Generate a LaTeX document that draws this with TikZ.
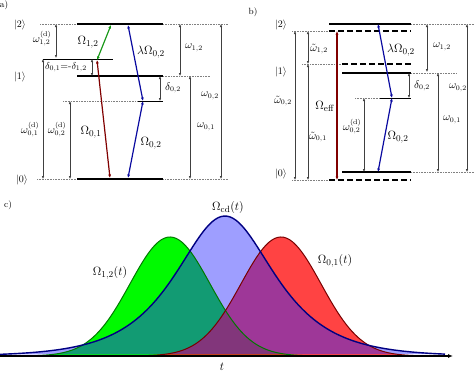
\documentclass[tikz,border=0pt]{standalone}
\usepackage{amsmath, amssymb}
\usetikzlibrary{positioning, arrows.meta}

\definecolor{pulsered}{RGB}{128,0,0}
\definecolor{pulsegreen}{RGB}{20,150,20}
\definecolor{pulseblue}{RGB}{10,10,160}
\definecolor{fillgreen}{RGB}{0,250,0}
\definecolor{fillred}{RGB}{255,20,20}
\definecolor{fillblue}{RGB}{40,40,255}
\definecolor{edgegreen}{RGB}{0,120,0}
\definecolor{edgered}{RGB}{120,0,0}
\definecolor{edgeblue}{RGB}{0,0,130}

\tikzset{
	statebar/.style={line width=2pt},
	ghostbar/.style={line width=2pt, dash pattern=on 6pt off 3pt},
	guide/.style={gray, densely dotted, line width=0.6pt},
	dimarrow/.style={{Latex[length=3pt,width=2.4pt]}-{Latex[length=3pt,width=2.4pt]}, black!75, line width=0.45pt},
	pulsearrow/.style={{Latex[length=3.5pt,width=3pt]}-{Latex[length=3.5pt,width=3pt]}, line width=1.2pt},
	lbl/.style={inner sep=1pt, font=\fontsize{10.5}{12}\selectfont},
	biglbl/.style={inner sep=1pt, font=\fontsize{12.8}{15}\selectfont},
	ketlbl/.style={inner sep=1pt, font=\normalsize},
}

\begin{document}
\begin{tikzpicture}[x=1pt, y=-1pt]
\useasboundingbox (0,0) rectangle (474,372);

% ---------- a) ----------
\node[lbl, font=\small] (tagA) at (4,5) {a)};
\draw[guide] (40,24) -- (228,24);
\draw[guide] (163,76) -- (210,76);
\draw[guide] (37,179) -- (228,179);
\draw[guide] (63,101) -- (138,101);
\draw[statebar] (77,24) -- (163,24);
\draw[statebar] (77,76) -- (163,76);
\draw[statebar] (77,179) -- (163,179);
\draw[line width=0.7pt] (43,59) -- (113,59);
\draw[line width=0.9pt] (138,101) -- (163,101);
\node[ketlbl] (ketA2) at (20,25) {$|2\rangle$};
\node[ketlbl] (ketA1) at (20,77) {$|1\rangle$};
\node[ketlbl] (ketA0) at (22,180) {$|0\rangle$};

\foreach \x/\ya/\yb in {56/24/58, 92/59/76, 43/59/179, 70/101/179, 160/76/101, 180/24/76, 190/76/179, 221/24/179} {
	\draw[dimarrow] (\x,\ya) -- (\x,\yb);
};

\coordinate (pA0) at (110,178);
\coordinate (pAv) at (97,60);
\coordinate (pA2) at (111,25);
\coordinate (qA2) at (128,25);
\coordinate (qAv) at (143,101);
\coordinate (qA0) at (128,178);
\draw[pulsearrow, pulsered] (pA0) -- (pAv);
\draw[pulsearrow, pulsegreen] (pAv) -- (pA2);
\draw[pulsearrow, pulseblue] (qA2) -- (qAv);
\draw[pulsearrow, pulseblue] (qAv) -- (qA0);

\node[lbl] (w12dA) at (42,39) {$\omega^{(\mathrm{d})}_{1,2}$};
\node[lbl, font=\normalsize] (d01A) at (66,67) {$\delta_{0,1}$=-$\delta_{1,2}$};
\node[lbl] (w01dA) at (30,130) {$\omega^{(\mathrm{d})}_{0,1}$};
\node[lbl] (w02dA) at (57,130) {$\omega^{(\mathrm{d})}_{0,2}$};
\node[biglbl] (O12A) at (88,42) {$\Omega_{1,2}$};
\node[biglbl] (lO02A) at (151,52) {$\lambda\Omega_{0,2}$};
\node[biglbl] (O01A) at (91,132) {$\Omega_{0,1}$};
\node[biglbl] (O02A) at (151,143) {$\Omega_{0,2}$};
\node[lbl] (d02A) at (173,88) {$\delta_{0,2}$};
\node[lbl] (w12A) at (194,48) {$\omega_{1,2}$};
\node[lbl] (w01A) at (206,127) {$\omega_{0,1}$};
\node[lbl] (w02A) at (210,96) {$\omega_{0,2}$};

% ---------- b) ----------
\node[lbl, font=\small] (tagB) at (253,12) {b)};
\draw[guide] (411,24) -- (475,24);
\draw[guide] (292,31) -- (329,31);
\draw[guide] (302,64) -- (342,64);
\draw[guide] (411,73) -- (456,73);
\draw[guide] (355,98) -- (380,98);
\draw[guide] (411,172) -- (475,172);
\draw[guide] (292,180) -- (329,180);
\draw[statebar] (329,24) -- (411,24);
\draw[ghostbar] (329,31) -- (411,31);
\draw[ghostbar] (342,64) -- (411,64);
\draw[statebar] (342,73) -- (411,73);
\draw[line width=0.9pt] (380,98) -- (411,98);
\draw[statebar] (342,172) -- (411,172);
\draw[ghostbar] (329,180) -- (411,180);
\node[ketlbl] (ketB2) at (281,25) {$|2\rangle$};
\node[ketlbl] (ketB1) at (281,72) {$|1\rangle$};
\node[ketlbl] (ketB0) at (281,174) {$|0\rangle$};

\foreach \x/\ya/\yb in {295/31/180, 308/31/64, 308/64/180, 364/98/172, 409/73/98, 427/24/72, 438/73/172, 467/24/172} {
	\draw[dimarrow] (\x,\ya) -- (\x,\yb);
};

\coordinate (eB2) at (337,31);
\coordinate (eB0) at (337,180);
\coordinate (qB2) at (378,24);
\coordinate (qBv) at (392,98);
\coordinate (qB0) at (378,172);
\draw[pulsearrow, pulsered] (eB0) -- (eB2);
\draw[pulsearrow, pulseblue] (qB2) -- (qBv);
\draw[pulsearrow, pulseblue] (qBv) -- (qB0);

\node[lbl] (tw02B) at (283,101) {$\tilde{\omega}_{0,2}$};
\node[lbl] (tw12B) at (319,49) {$\tilde{\omega}_{1,2}$};
\node[lbl] (tw01B) at (318,137) {$\tilde{\omega}_{0,1}$};
\node[biglbl] (OeffB) at (325,106) {$\Omega_{\mathrm{eff}}$};
\node[lbl] (w02dB) at (352,127) {$\omega^{(\mathrm{d})}_{0,2}$};
\node[biglbl] (lO02B) at (401,50) {$\lambda\Omega_{0,2}$};
\node[biglbl] (O02B) at (398,137) {$\Omega_{0,2}$};
\node[lbl] (d02B) at (422,86) {$\delta_{0,2}$};
\node[lbl] (w12B) at (442,47) {$\omega_{1,2}$};
\node[lbl] (w01B) at (452,120) {$\omega_{0,1}$};
\node[lbl] (w02B) at (458,88) {$\omega_{0,2}$};

% ---------- c) ----------
\node[lbl, font=\small] (tagC) at (8,205) {c)};
\fill[fillgreen] plot[domain=0:445, samples=150] (\x,{356-119*exp(-((\x-170)/40)^2/2)}) -- cycle;
\fill[fillred, opacity=0.8] plot[domain=0:445, samples=150] (\x,{356-119*exp(-((\x-281)/40)^2/2)}) -- cycle;
\fill[fillblue, opacity=0.45] plot[domain=0:445, samples=150] (\x,{356-140/cosh((\x-225)/44)}) -- cycle;
\draw[edgegreen, line width=1pt] plot[domain=0:445, samples=150] (\x,{356-119*exp(-((\x-170)/40)^2/2)});
\draw[edgered, line width=1pt] plot[domain=0:445, samples=150] (\x,{356-119*exp(-((\x-281)/40)^2/2)});
\draw[edgeblue, line width=1.4pt] plot[domain=0:445, samples=150] (\x,{356-140/cosh((\x-225)/44)});
\coordinate (axL) at (0,356);
\coordinate (axR) at (453,356);
\draw[line width=1.2pt, -{Latex[length=5pt,width=4pt]}] (axL) -- (axR);
\node[lbl, font=\large] (tC) at (222,367) {$t$};
\node[biglbl] (O12C) at (110,273) {$\Omega_{1,2}(t)$};
\node[biglbl] (OcdC) at (228,207) {$\Omega_{\mathrm{cd}}(t)$};
\node[biglbl] (O01C) at (335,261) {$\Omega_{0,1}(t)$};
\end{tikzpicture}
\end{document}
